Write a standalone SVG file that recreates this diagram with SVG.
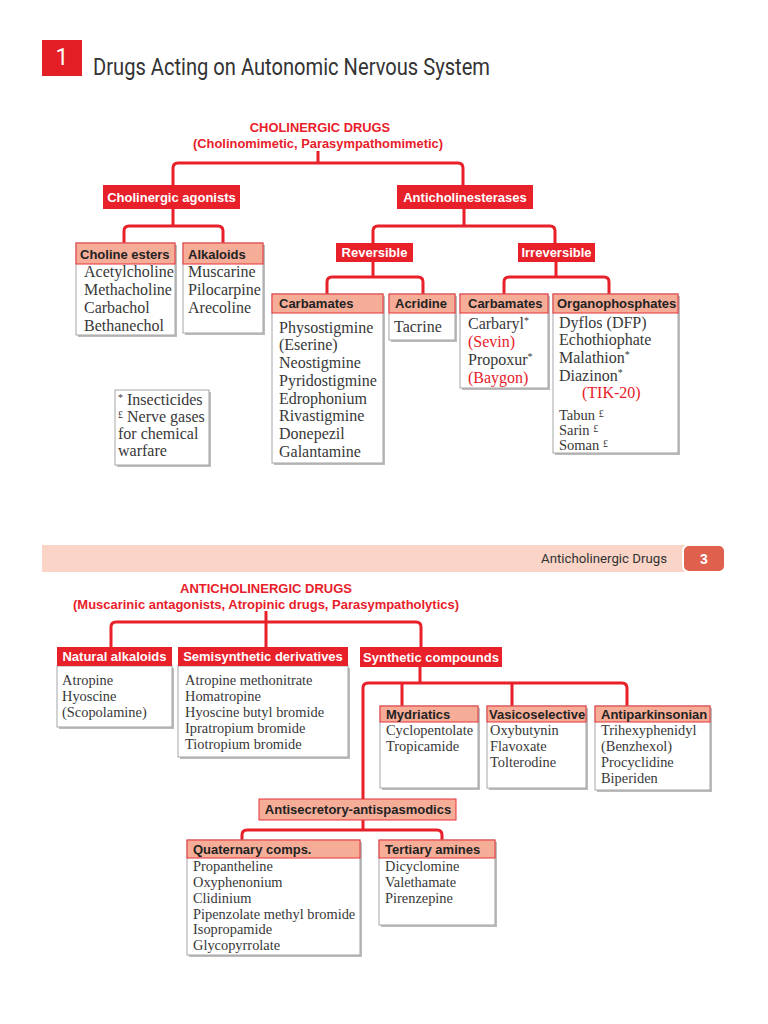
<svg xmlns="http://www.w3.org/2000/svg" width="768" height="1024" viewBox="0 0 768 1024">
<style>
.bg{fill:#ffffff}
.red{fill:#e8202a}
.hdr{fill:#f6ad98;stroke:#e8303a;stroke-width:1}
.body{fill:#ffffff;stroke:#a5a5a5;stroke-width:1}
.sh{fill:#bcbcbc}
.conn{fill:none;stroke:#e8202a;stroke-width:3;stroke-linejoin:round;stroke-linecap:butt}
.ht{font-family:"Liberation Sans",Arial,sans-serif;font-weight:bold;font-size:13px;fill:#222}
.wt{font-family:"Liberation Sans",Arial,sans-serif;font-weight:bold;font-size:13px;fill:#ffffff}
.tt{font-family:"Liberation Sans",Arial,sans-serif;font-weight:bold;font-size:12.9px;fill:#e8202a}
.t1{font-family:"Liberation Serif","Times New Roman",serif;font-size:16px;fill:#383838}
.t2{font-family:"Liberation Serif","Times New Roman",serif;font-size:14.4px;fill:#383838}
.rt{fill:#e8202a}
.sup{font-size:10px}
.sm{font-size:14.5px}
</style>
<rect class="bg" x="0" y="0" width="768" height="1024"/>

<!-- Page header -->
<g id="page-header">
<rect x="42" y="40" width="40" height="36" fill="#e31e24"/>
<text x="62" y="65" text-anchor="middle" font-family="Roboto,'Liberation Sans',sans-serif" font-size="23" fill="#ffffff">1</text>
<text x="93" y="75" font-family="Roboto,'Liberation Sans',sans-serif" font-size="23" fill="#333" textLength="397" lengthAdjust="spacingAndGlyphs">Drugs Acting on Autonomic Nervous System</text>
</g>

<!-- Connectors -->
<g id="connectors">
<path class="conn" d="M318,151 V163 M173,185 V168 Q173,163 178,163 H458 Q463,163 463,168 V185"/>
<path class="conn" d="M173,209 V226 M124,243 V231 Q124,226 129,226 H218 Q223,226 223,231 V243"/>
<path class="conn" d="M464,209 V226 M373,243 V231 Q373,226 378,226 H550 Q555,226 555,231 V243"/>
<path class="conn" d="M373,262 V277 M327,294 V282 Q327,277 332,277 H418 Q423,277 423,282 V294"/>
<path class="conn" d="M556,262 V277 M504,294 V282 Q504,277 509,277 H604 Q609,277 609,282 V294"/>
<path class="conn" d="M266,611 V647 M111,647 V627 Q111,622 116,622 H416 Q421,622 421,627 V647"/>
<path class="conn" d="M420,667 V683 M363,799 V688 Q363,683 368,683 H622 Q627,683 627,688 V706 M402,683 V706 M512,683 V706"/>
<path class="conn" d="M363,820 V830 M242,840 V835 Q242,830 247,830 H437 Q442,830 442,835 V840"/>
</g>

<!-- Top tree -->
<g id="cholinergic-drugs">
<text class="tt" x="320" y="132" text-anchor="middle">CHOLINERGIC DRUGS</text>
<text class="tt" x="318" y="148" text-anchor="middle">(Cholinomimetic, Parasympathomimetic)</text>
</g>

<g id="cholinergic-agonists">
<rect class="red" x="103" y="185" width="137" height="24"/>
<text class="wt" x="171.5" y="201.5" text-anchor="middle">Cholinergic agonists</text>
</g>

<g id="anticholinesterases">
<rect class="red" x="397" y="185" width="136" height="24"/>
<text class="wt" x="465" y="201.5" text-anchor="middle">Anticholinesterases</text>
</g>

<g id="choline-esters">
<rect class="sh" x="78" y="245" width="99" height="92"/>
<rect class="body" x="76" y="243" width="99" height="92"/>
<rect class="hdr" x="76" y="243" width="99" height="21"/>
<text class="ht" x="80" y="258.5">Choline esters</text>
<text class="t1" x="84" y="277">Acetylcholine</text>
<text class="t1" x="84" y="295">Methacholine</text>
<text class="t1" x="84" y="313">Carbachol</text>
<text class="t1" x="84" y="331">Bethanechol</text>
</g>

<g id="alkaloids">
<rect class="sh" x="185" y="245" width="80" height="90"/>
<rect class="body" x="183" y="243" width="80" height="90"/>
<rect class="hdr" x="183" y="243" width="80" height="21"/>
<text class="ht" x="188" y="258.5">Alkaloids</text>
<text class="t1" x="188" y="277">Muscarine</text>
<text class="t1" x="188" y="295">Pilocarpine</text>
<text class="t1" x="188" y="313">Arecoline</text>
</g>

<g id="reversible">
<rect class="red" x="336" y="243" width="77" height="19"/>
<text class="wt" x="374.5" y="257" text-anchor="middle">Reversible</text>
</g>

<g id="irreversible">
<rect class="red" x="518" y="243" width="77" height="19"/>
<text class="wt" x="556.5" y="257" text-anchor="middle">Irreversible</text>
</g>

<g id="carbamates-reversible">
<rect class="sh" x="274" y="296" width="111" height="169"/>
<rect class="body" x="272" y="294" width="111" height="169"/>
<rect class="hdr" x="272" y="294" width="111" height="19"/>
<text class="ht" x="279" y="308">Carbamates</text>
<text class="t1" x="279" y="333">Physostigmine</text>
<text class="t1" x="279" y="350">(Eserine)</text>
<text class="t1" x="279" y="368">Neostigmine</text>
<text class="t1" x="279" y="386">Pyridostigmine</text>
<text class="t1" x="279" y="404">Edrophonium</text>
<text class="t1" x="279" y="421">Rivastigmine</text>
<text class="t1" x="279" y="439">Donepezil</text>
<text class="t1" x="279" y="457">Galantamine</text>
</g>

<g id="acridine">
<rect class="sh" x="391" y="296" width="66" height="46"/>
<rect class="body" x="389" y="294" width="66" height="46"/>
<rect class="hdr" x="389" y="294" width="66" height="19"/>
<text class="ht" x="395" y="308">Acridine</text>
<text class="t1" x="394" y="332">Tacrine</text>
</g>

<g id="carbamates-irreversible">
<rect class="sh" x="462" y="296" width="88" height="94"/>
<rect class="body" x="460" y="294" width="88" height="94"/>
<rect class="hdr" x="460" y="294" width="88" height="19"/>
<text class="ht" x="468" y="308">Carbamates</text>
<text class="t1" x="468" y="329">Carbaryl<tspan class="sup" dy="-5">*</tspan></text>
<text class="t1 rt" x="468" y="347">(Sevin)</text>
<text class="t1" x="468" y="365">Propoxur<tspan class="sup" dy="-5">*</tspan></text>
<text class="t1 rt" x="468" y="383">(Baygon)</text>
</g>

<g id="organophosphates">
<rect class="sh" x="555" y="296" width="125" height="159"/>
<rect class="body" x="553" y="294" width="125" height="159"/>
<rect class="hdr" x="553" y="294" width="125" height="19"/>
<text class="ht" x="557" y="308">Organophosphates</text>
<text class="t1" x="559" y="328">Dyflos (DFP)</text>
<text class="t1" x="559" y="345">Echothiophate</text>
<text class="t1" x="559" y="363">Malathion<tspan class="sup" dy="-5">*</tspan></text>
<text class="t1" x="559" y="381">Diazinon<tspan class="sup" dy="-5">*</tspan></text>
<text class="t1 rt" x="582" y="398">(TIK-20)</text>
<text class="t1 sm" x="559" y="420">Tabun <tspan class="sup" dy="-3">£</tspan></text>
<text class="t1 sm" x="559" y="435">Sarin <tspan class="sup" dy="-3">£</tspan></text>
<text class="t1 sm" x="559" y="450">Soman <tspan class="sup" dy="-3">£</tspan></text>
</g>

<g id="legend">
<rect class="sh" x="117" y="392" width="94" height="75"/>
<rect class="body" x="115" y="390" width="94" height="75"/>
<text class="t1" x="118" y="405" font-size="15.5"><tspan class="sup" dy="-4">*</tspan><tspan dy="4"> Insecticides</tspan></text>
<text class="t1" x="118" y="422" font-size="15.5"><tspan class="sup" dy="-4">£</tspan><tspan dy="4"> Nerve gases</tspan></text>
<text class="t1" x="118" y="439" font-size="15.5">for chemical</text>
<text class="t1" x="118" y="456" font-size="15.5">warfare</text>
</g>

<!-- Bottom section -->
<g id="section-band">
<rect x="42" y="545" width="648" height="27" fill="#f9d4c7"/>
<rect x="683" y="545" width="42" height="27" rx="6" fill="#e0604e" stroke="#ffffff" stroke-width="2"/>
<text x="704" y="564" text-anchor="middle" font-family="'Liberation Sans',Arial,sans-serif" font-weight="bold" font-size="14" fill="#ffffff">3</text>
<text x="667" y="563" text-anchor="end" font-family="Roboto,'Liberation Sans',sans-serif" font-size="13" fill="#333" textLength="126" lengthAdjust="spacingAndGlyphs">Anticholinergic Drugs</text>
</g>

<g id="anticholinergic-drugs">
<text class="tt" x="266" y="593" text-anchor="middle" font-size="14" textLength="172" lengthAdjust="spacingAndGlyphs">ANTICHOLINERGIC DRUGS</text>
<text class="tt" x="266" y="609" text-anchor="middle" font-size="14" textLength="386" lengthAdjust="spacingAndGlyphs">(Muscarinic antagonists, Atropinic drugs, Parasympatholytics)</text>
</g>

<g id="natural-alkaloids">
<rect class="sh" x="59" y="668" width="115" height="61"/>
<rect class="body" x="57" y="666" width="115" height="61"/>
<rect class="red" x="57" y="647" width="115" height="19"/>
<text class="wt" x="114.5" y="661" text-anchor="middle">Natural alkaloids</text>
<text class="t2" x="62" y="685">Atropine</text>
<text class="t2" x="62" y="701">Hyoscine</text>
<text class="t2" x="62" y="717">(Scopolamine)</text>
</g>

<g id="semisynthetic-derivatives">
<rect class="sh" x="180" y="668" width="170" height="91"/>
<rect class="body" x="178" y="666" width="170" height="91"/>
<rect class="red" x="178" y="647" width="170" height="19"/>
<text class="wt" x="263" y="661" text-anchor="middle">Semisynthetic derivatives</text>
<text class="t2" x="185" y="685">Atropine methonitrate</text>
<text class="t2" x="185" y="701">Homatropine</text>
<text class="t2" x="185" y="717">Hyoscine butyl bromide</text>
<text class="t2" x="185" y="733">Ipratropium bromide</text>
<text class="t2" x="185" y="749">Tiotropium bromide</text>
</g>

<g id="synthetic-compounds">
<rect class="red" x="360" y="647" width="142" height="20"/>
<text class="wt" x="431" y="661.5" text-anchor="middle">Synthetic compounds</text>
</g>

<g id="mydriatics">
<rect class="sh" x="382" y="708" width="98" height="82"/>
<rect class="body" x="380" y="706" width="98" height="82"/>
<rect class="hdr" x="380" y="706" width="98" height="16"/>
<text class="ht" x="386" y="718.5">Mydriatics</text>
<text class="t2" x="386" y="735">Cyclopentolate</text>
<text class="t2" x="386" y="751">Tropicamide</text>
</g>

<g id="vasicoselective">
<rect class="sh" x="489" y="708" width="99" height="82"/>
<rect class="body" x="487" y="706" width="99" height="82"/>
<rect class="hdr" x="487" y="706" width="99" height="16"/>
<text class="ht" x="489" y="718.5">Vasicoselective</text>
<text class="t2" x="490" y="735">Oxybutynin</text>
<text class="t2" x="490" y="751">Flavoxate</text>
<text class="t2" x="490" y="767">Tolterodine</text>
</g>

<g id="antiparkinsonian">
<rect class="sh" x="597" y="708" width="115" height="84"/>
<rect class="body" x="595" y="706" width="115" height="84"/>
<rect class="hdr" x="595" y="706" width="115" height="16"/>
<text class="ht" x="601" y="718.5">Antiparkinsonian</text>
<text class="t2" x="601" y="735">Trihexyphenidyl</text>
<text class="t2" x="601" y="751">(Benzhexol)</text>
<text class="t2" x="601" y="767">Procyclidine</text>
<text class="t2" x="601" y="783">Biperiden</text>
</g>

<g id="antisecretory-antispasmodics">
<rect class="hdr" x="259" y="799" width="197" height="21"/>
<text class="ht" x="358" y="814" text-anchor="middle">Antisecretory-antispasmodics</text>
</g>

<g id="quaternary-comps">
<rect class="sh" x="189" y="842" width="173" height="115"/>
<rect class="body" x="187" y="840" width="173" height="115"/>
<rect class="hdr" x="187" y="840" width="173" height="18"/>
<text class="ht" x="193" y="853.5">Quaternary comps.</text>
<text class="t2" x="193" y="871">Propantheline</text>
<text class="t2" x="193" y="887">Oxyphenonium</text>
<text class="t2" x="193" y="903">Clidinium</text>
<text class="t2" x="193" y="919">Pipenzolate methyl bromide</text>
<text class="t2" x="193" y="934">Isopropamide</text>
<text class="t2" x="193" y="950">Glycopyrrolate</text>
</g>

<g id="tertiary-amines">
<rect class="sh" x="381" y="842" width="116" height="85"/>
<rect class="body" x="379" y="840" width="116" height="85"/>
<rect class="hdr" x="379" y="840" width="116" height="18"/>
<text class="ht" x="385" y="853.5">Tertiary amines</text>
<text class="t2" x="385" y="871">Dicyclomine</text>
<text class="t2" x="385" y="887">Valethamate</text>
<text class="t2" x="385" y="903">Pirenzepine</text>
</g>
</svg>
